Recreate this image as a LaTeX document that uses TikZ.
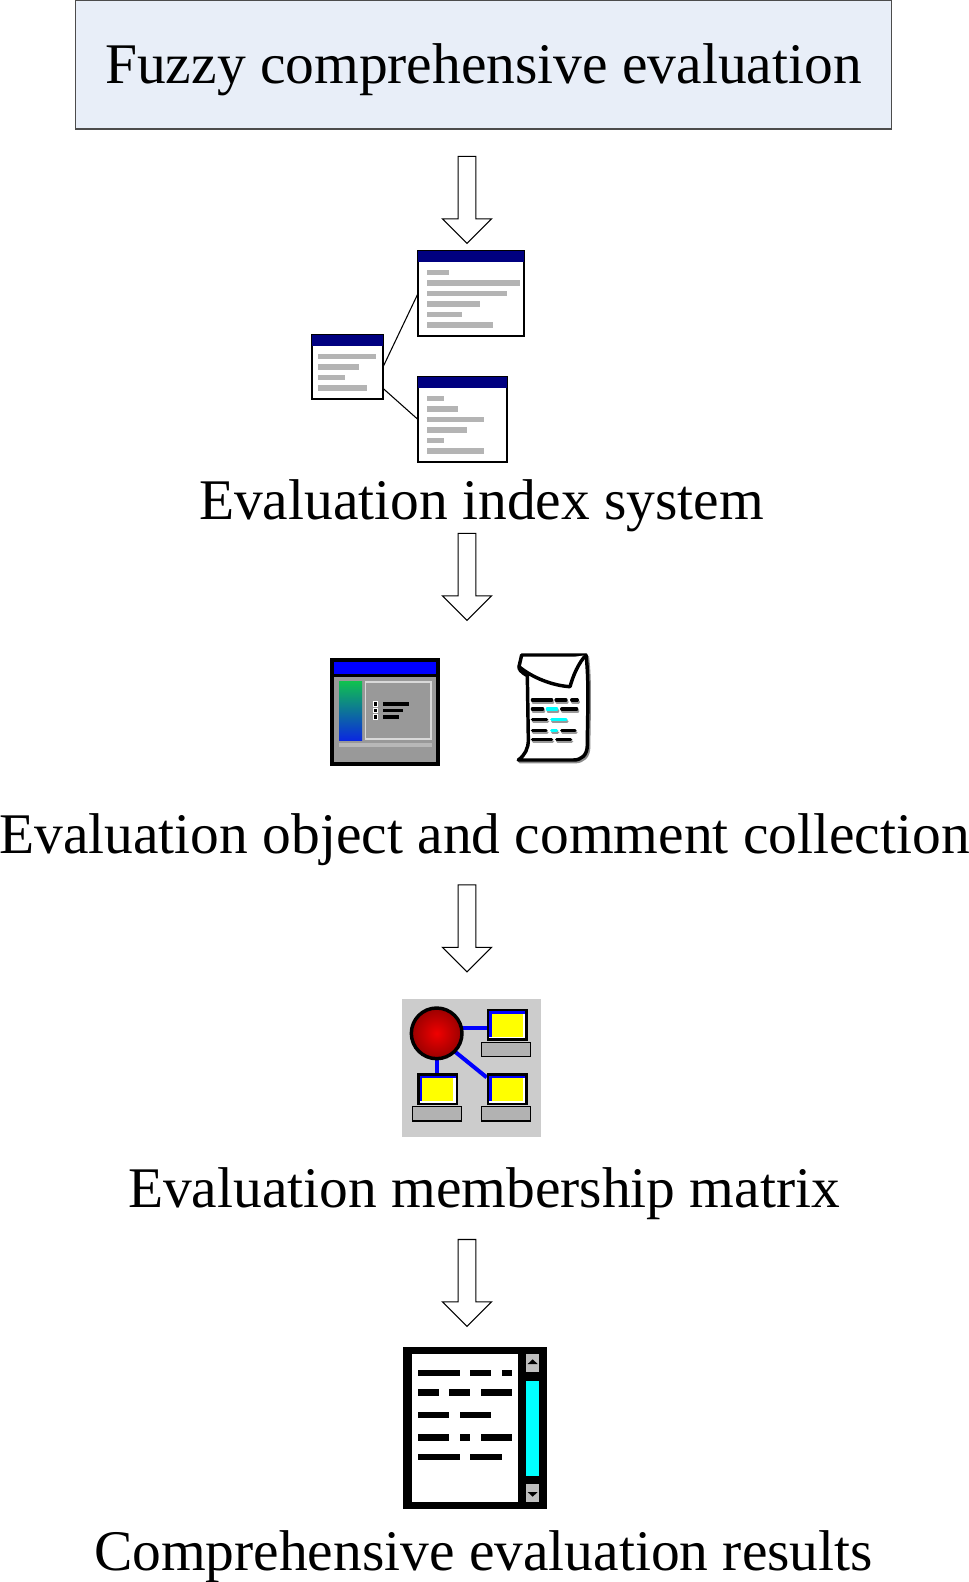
\documentclass[tikz,border=0pt]{standalone}
\usepackage{fontspec}
\setmainfont{Liberation Serif}
\usetikzlibrary{shapes.arrows}
\definecolor{titlefill}{HTML}{E8EEF8}
\definecolor{hdr}{HTML}{000080}
\definecolor{barg}{HTML}{B4B4B4}
\definecolor{wing}{HTML}{999999}
\definecolor{bgg}{HTML}{CCCCCC}
\definecolor{keyg}{HTML}{B2B2B2}
\definecolor{pureblue}{HTML}{0000FF}
\definecolor{pureyellow}{HTML}{FFFF00}
\definecolor{purecyan}{HTML}{00FFFF}
\definecolor{gradtop}{HTML}{10C050}
\definecolor{gradbot}{HTML}{0A28E0}
\definecolor{redmid}{HTML}{F00000}
\definecolor{redout}{HTML}{980000}
\tikzset{
  label text/.style={anchor=base,font=\fontsize{43.1}{43.1}\selectfont,inner sep=0pt,outer sep=0pt},
  block arrow/.style={shape=single arrow,draw=black,line width=0.85pt,fill=white,rotate=-90,
    minimum height=65.25pt,minimum width=36pt,inner sep=6.2pt,outer sep=0pt,
    single arrow head extend=11.8pt,single arrow head indent=0pt,single arrow tip angle=90},
  table box/.style={draw=black,line width=0.8pt,fill=white,inner sep=0pt,outer sep=0pt},
  zoomed/.style={x=0.25pt,y=-0.25pt},
  link/.style={line width=0.8pt,draw=black},
  wire/.style={draw=pureblue,line width=3pt},
  doc/.style={line width=2.6pt,line cap=round,line join=round},
  docline/.style={line width=2.4pt,line cap=round}
}
\newcommand{\monitorat}[2]{%
  \begin{scope}[shift={(#1,#2)}]
    \fill[white] (0,0) rectangle (120,95);
    \fill[pureblue] (0,0) rectangle (120,15);
    \fill[pureblue] (0,0) rectangle (15,83);
    \fill[pureyellow] (15,15) rectangle (108,83);
    \draw[black,line width=1.75pt] (3.5,3.5) rectangle (118.5,91.5);
  \end{scope}}
\newcommand{\keyboardat}[2]{%
  \draw[black,fill=keyg,line width=0.8pt] (#1,#2) rectangle +(147,43);}
\begin{document}
\begin{tikzpicture}[x=0.75pt,y=-0.75pt]
\useasboundingbox (0,0) rectangle (969,1582);
\fill[white] (0,0) rectangle (969,1582);

% title
\node[draw=black!70,line width=0.8pt,fill=titlefill,minimum width=611.5pt,minimum height=96.75pt,inner sep=0pt,outer sep=0pt] (titlebox) at (483.5,64.5) {};
\node[label text] (title) at (483.5,83) {Fuzzy comprehensive evaluation};

% arrows
\node[block arrow] (a1) at (467,195.5) {};
\node[block arrow] (a2) at (467,572.5) {};
\node[block arrow] (a3) at (467,924) {};
\node[block arrow] (a4) at (467,1278.5) {};

% index tables
\node[table box,minimum width=79.5pt,minimum height=63.75pt] (ttop) at (471,293.5) {};
\node[table box,minimum width=53.25pt,minimum height=48pt] (tleft) at (347.5,367) {};
\node[table box,minimum width=66.75pt,minimum height=63.75pt] (tbot) at (462.5,419.5) {};
\draw[link] (tleft.east) -- (ttop.west);
\draw[link] ([yshift=-16pt]tleft.east) -- (tbot.west);
\begin{scope}[shift={(300,240)},zoomed]
  \fill[hdr] (353,33) rectangle (673,67);
  \foreach \e/\y in {446/97,660/129,620/160,540/192,487/223,580/255}
    \fill[barg] (380,\y-8) rectangle (\e,\y+8);
  \fill[hdr] (35,285) rectangle (248,319);
  \foreach \e/\y in {229/349,176/381,135/413,202/444}
    \fill[barg] (55,\y-8) rectangle (\e,\y+8);
  \fill[hdr] (353,412) rectangle (620,445);
  \foreach \e/\y in {433/476,473/507,553/539,500/570,433/601,553/633}
    \fill[barg] (380,\y-8) rectangle (\e,\y+8);
\end{scope}
\node[label text] (l1) at (481.5,519.5) {Evaluation index system};

% window icon and document icon
\begin{scope}[shift={(320,645)},zoomed]
  \fill[black] (30,38) rectangle (360,362);
  \fill[pureblue] (42,50) rectangle (348,86);
  \fill[wing] (42,97) rectangle (348,350);
  \shade[shading angle=-25,top color=gradtop,bottom color=gradbot] (57,110) rectangle (126,285);
  \draw[black!15,line width=0.9pt] (137,111) rectangle (333,282);
  \fill[black!28] (57,295) rectangle (335,305);
  \foreach \y/\e in {177/268,197/248,216/238}{
    \fill[white] (158,\y-8) rectangle (174,\y+8);
    \fill[black] (162,\y-5) rectangle (172,\y+5);
    \fill[black] (188,\y-5) rectangle (\e,\y+5);
  }
  % paper
  \begin{scope}[shift={(4,5)}]
    \draw[doc,draw=black!45] (798,30) .. controls (808,110) and (802,220) .. (802,300) .. controls (802,330) and (785,345) .. (760,345) -- (595,345);
  \end{scope}
  \draw[doc,fill=white,draw=black] (605,30) -- (798,30) .. controls (808,110) and (802,220) .. (802,300)
    .. controls (802,330) and (785,345) .. (760,345) -- (595,345)
    .. controls (615,330) and (625,310) .. (625,285) -- (622,92)
    .. controls (600,80) and (597,72) .. (597,65) -- cycle;
  \draw[doc,fill=white,draw=black] (597,65) .. controls (640,100) and (700,122) .. (750,125)
    .. controls (760,90) and (775,55) .. (798,30);
  \foreach \a/\b/\y/\c in {637/695/165/black,708/738/165/black,755/772/165/black,
      637/668/192/black,682/710/192/purecyan,725/770/192/black,
      637/680/224/black,695/738/224/purecyan,
      637/678/257/black,695/710/257/purecyan,725/765/257/black,
      637/695/284/black,710/752/284/black}{
    \draw[docline,black!40] (\a+3,\y+6) -- (\b+3,\y+6);
    \draw[docline,\c] (\a,\y) -- (\b,\y);
  }
\end{scope}
\node[label text] (l2) at (484.5,853) {Evaluation object and comment collection};

% network icon
\begin{scope}[shift={(395,990)},zoomed]
  \fill[bgg] (20,27) rectangle (437,440);
  \draw[wire] (200,115) -- (280,115);
  \draw[wire] (125,205) -- (125,255);
  \draw[wire] (180,185) -- (275,262);
  \shade[inner color=redmid,outer color=redout] (125,130) circle (78);
  \draw[black,line width=2.6pt] (125,130) circle (76);
  \monitorat{276}{57}
  \monitorat{67}{250}
  \monitorat{276}{250}
  \keyboardat{260}{157}
  \keyboardat{52}{350}
  \keyboardat{260}{350}
\end{scope}
\node[label text] (l3) at (484,1207) {Evaluation membership matrix};

% result icon
\begin{scope}[shift={(395,1340)},zoomed]
  \fill[black] (25,20) rectangle (457,507);
  \fill[white] (50,43) rectangle (370,485);
  \fill[black!25] (393,43) rectangle (433,97);
  \fill[black!25] (393,431) rectangle (433,485);
  \fill[black] (413,58) -- (428,72) -- (398,72) -- cycle;
  \fill[black] (413,470) -- (428,456) -- (398,456) -- cycle;
  \fill[purecyan] (393,122) rectangle (433,407);
  \foreach \a/\b/\y in {69/195/99,225/289/99,320/351/99,
      69/132/158,163/226/158,257/351/158,
      69/163/225,194/289/225,
      69/163/293,194/226/293,257/351/293,
      69/195/351,225/320/351}
    \fill[black] (\a,\y-10) rectangle (\b,\y+10);
\end{scope}
\node[label text] (l4) at (483.5,1570) {Comprehensive evaluation results};
\end{tikzpicture}
\end{document}
